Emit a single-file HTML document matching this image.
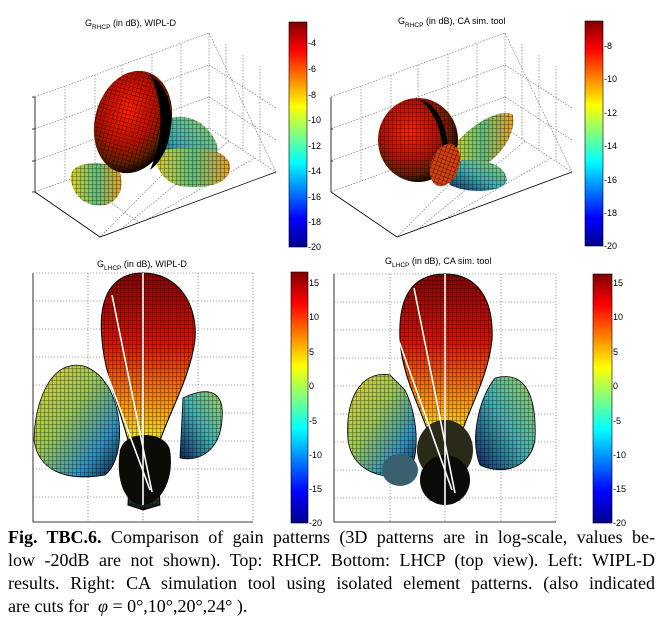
<!DOCTYPE html>
<html><head><meta charset="utf-8"><style>
html,body{margin:0;padding:0;background:#fff;}
.cap{position:absolute;left:8px;top:526px;width:647px;font-family:"Liberation Serif",serif;font-size:18px;line-height:23px;color:#000;}
.cap div{text-align:justify;text-align-last:justify;white-space:nowrap;}
.cap div.l{text-align-last:left;}
</style></head><body>
<div style="position:relative;width:663px;height:640px;overflow:hidden">
<svg width="663" height="640" style="position:absolute;left:0;top:0" font-family="Liberation Sans, sans-serif">
<defs>
<linearGradient id="jet" x1="0" y1="1" x2="0" y2="0">
<stop offset="0" stop-color="#00008f"/><stop offset="0.125" stop-color="#0000ff"/>
<stop offset="0.375" stop-color="#00ffff"/><stop offset="0.625" stop-color="#ffff00"/>
<stop offset="0.875" stop-color="#ff0000"/><stop offset="1" stop-color="#800000"/>
</linearGradient>
<linearGradient id="lobeV" x1="0" y1="0" x2="0" y2="1">
<stop offset="0" stop-color="#8a0000"/><stop offset="0.3" stop-color="#e01000"/>
<stop offset="0.55" stop-color="#ff9000"/><stop offset="0.7" stop-color="#e8e020"/>
<stop offset="0.82" stop-color="#70c070"/><stop offset="1" stop-color="#111"/>
</linearGradient>
<linearGradient id="sideL" x1="0" y1="0" x2="1" y2="1">
<stop offset="0" stop-color="#e0d030"/><stop offset="0.4" stop-color="#a0c850"/>
<stop offset="0.75" stop-color="#3090c0"/><stop offset="1" stop-color="#101830"/>
</linearGradient>
<linearGradient id="sideR" x1="1" y1="0" x2="0" y2="1">
<stop offset="0" stop-color="#a0d060"/><stop offset="0.5" stop-color="#40b0b0"/>
<stop offset="1" stop-color="#102060"/>
</linearGradient>
<radialGradient id="ball" cx="0.4" cy="0.4" r="0.65">
<stop offset="0" stop-color="#ff2000"/><stop offset="0.5" stop-color="#c01000"/>
<stop offset="0.8" stop-color="#602000"/><stop offset="1" stop-color="#000"/>
</radialGradient>
<linearGradient id="greenY" x1="0" y1="0" x2="1" y2="0">
<stop offset="0" stop-color="#e0d020"/><stop offset="0.5" stop-color="#60c080"/><stop offset="1" stop-color="#e8a020"/>
</linearGradient>
<pattern id="mesh" width="4" height="4" patternUnits="userSpaceOnUse">
<path d="M0 0H4M0 0V4" stroke="#000" stroke-width="0.8" opacity="0.75"/>
</pattern>
</defs>

<!-- ============ TOP LEFT ============ -->
<text x="85" y="26" font-size="9">G<tspan font-size="6.5" dy="3">RHCP</tspan><tspan dy="-3"> (in dB), WIPL-D</tspan></text>
<g stroke="#666" stroke-width="0.6" stroke-dasharray="1.5,1.5" fill="none">
<path d="M35 97 L209 33 L276 172 M35 192 L209 128 M209 33 L209 128 L276 172 M65 86 L65 181 M95 75 L95 170 M122 65 L122 160 M152 54 L152 149 M181 44 L181 139 M35 129 L209 65 M35 161 L209 97 M209 65 L276 108 M209 97 L276 140 M226 44 L226 140 M243 55 L243 151 M260 66 L260 162 M209 128 L100 237 M229 141 L120 230 M255 158 L146 220 M35 192 L100 237 M75 178 L140 223"/>
</g>
<g stroke="#000" stroke-width="0.8" fill="none"><path d="M35 97 V192 L100 237 L276 172 M35 97 h-3 M35 129 h-3 M35 161 h-3 M35 192 h-3"/></g>
<path d="M72 185 C65 165 85 160 115 165 C125 175 125 200 105 205 C88 207 77 200 72 185Z" fill="url(#greenY)"/>
<path d="M72 185 C65 165 85 160 115 165 C125 175 125 200 105 205 C88 207 77 200 72 185Z" fill="url(#mesh)"/>
<path d="M150 130 C170 110 200 112 215 140 C222 155 215 170 195 175 C170 178 150 170 150 130Z" fill="url(#sideR)"/>
<path d="M150 130 C170 110 200 112 215 140 C222 155 215 170 195 175 C170 178 150 170 150 130Z" fill="url(#mesh)"/>
<path d="M155 152 C185 145 225 145 230 165 C232 182 210 190 180 186 C165 182 155 170 155 152Z" fill="url(#greenY)"/>
<path d="M155 152 C185 145 225 145 230 165 C232 182 210 190 180 186 C165 182 155 170 155 152Z" fill="url(#mesh)"/>
<ellipse cx="133" cy="122" rx="38" ry="52" transform="rotate(15 133 122)" fill="url(#ball)"/>
<ellipse cx="133" cy="122" rx="38" ry="52" transform="rotate(15 133 122)" fill="url(#mesh)"/>
<path d="M150 75 C178 90 178 150 150 170 C163 140 165 105 150 75Z" fill="#000"/>
<rect x="289" y="22" width="18" height="225" fill="url(#jet)" stroke="#000" stroke-width="0.6"/>
<g font-size="9" fill="#000">
<text x="308" y="46">-4</text><text x="308" y="72">-6</text><text x="308" y="98">-8</text><text x="308" y="123">-10</text><text x="308" y="149">-12</text><text x="308" y="174">-14</text><text x="308" y="200">-16</text><text x="308" y="225">-18</text><text x="308" y="250">-20</text></g>

<!-- ============ TOP RIGHT ============ -->
<text x="398" y="24" font-size="9">G<tspan font-size="6.5" dy="3">RHCP</tspan><tspan dy="-3"> (in dB), CA sim. tool</tspan></text>
<g stroke="#666" stroke-width="0.6" stroke-dasharray="1.5,1.5" fill="none">
<path d="M331 97 L505 33 L572 172 M331 192 L505 128 M505 33 L505 128 L572 172 M361 86 L361 181 M391 75 L391 170 M418 65 L418 160 M448 54 L448 149 M477 44 L477 139 M331 129 L505 65 M331 161 L505 97 M505 65 L572 108 M505 97 L572 140 M522 44 L522 140 M539 55 L539 151 M556 66 L556 162 M505 128 L397 237 M525 141 L417 230 M551 158 L443 220"/>
</g>
<g stroke="#000" stroke-width="0.8" fill="none"><path d="M331 97 V192 M331 192 L397 237 L572 172 M331 129 h2 M331 161 h2"/></g>
<path d="M450 150 C475 118 505 108 513 115 C516 135 500 160 472 172 Z" fill="url(#greenY)"/>
<path d="M450 150 C475 118 505 108 513 115 C516 135 500 160 472 172 Z" fill="url(#mesh)"/>
<path d="M445 165 C470 155 505 160 507 180 C505 192 470 195 450 185Z" fill="url(#sideR)"/>
<path d="M445 165 C470 155 505 160 507 180 C505 192 470 195 450 185Z" fill="url(#mesh)"/>
<ellipse cx="418" cy="140" rx="40" ry="42" fill="url(#ball)"/>
<ellipse cx="418" cy="140" rx="40" ry="42" fill="url(#mesh)"/>
<path d="M420 100 C450 105 455 170 440 180 C448 150 440 115 420 100Z" fill="#000"/>
<ellipse cx="445" cy="165" rx="14" ry="22" transform="rotate(20 445 165)" fill="#d04010"/>
<ellipse cx="445" cy="165" rx="14" ry="22" transform="rotate(20 445 165)" fill="url(#mesh)"/>
<rect x="585" y="21" width="18" height="225" fill="url(#jet)" stroke="#000" stroke-width="0.6"/>
<g font-size="9" fill="#000">
<text x="604" y="49">-8</text><text x="604" y="82">-10</text><text x="604" y="116">-12</text><text x="604" y="149">-14</text><text x="604" y="183">-16</text><text x="604" y="216">-18</text><text x="604" y="249">-20</text></g>

<!-- ============ BOTTOM LEFT ============ -->
<text x="97" y="267" font-size="9">G<tspan font-size="6.5" dy="3">LHCP</tspan><tspan dy="-3"> (in dB), WIPL-D</tspan></text>
<g stroke="#555" stroke-width="0.6" stroke-dasharray="1.2,1.8" fill="none">
<path d="M33 273 H253 M88 273 V522 M143 273 V522 M198 273 V522 M253 273 V522 M33 301 H253 M33 329 H253 M33 357 H253 M33 385 H253 M33 413 H253 M33 441 H253 M33 469 H253 M33 497 H253"/>
</g>
<path d="M33 273 V522 H253" stroke="#000" stroke-width="0.8" fill="none"/>
<path d="M70 366 C50 370 35 400 34 440 C38 470 65 482 105 475 C122 462 125 420 110 390 C100 372 85 362 70 366Z" fill="url(#sideL)" stroke="#000" stroke-width="0.8"/>
<path d="M70 366 C50 370 35 400 34 440 C38 470 65 482 105 475 C122 462 125 420 110 390 C100 372 85 362 70 366Z" fill="url(#mesh)"/>
<path d="M183 398 C210 385 225 392 222 420 C220 450 200 462 180 458Z" fill="url(#sideR)" stroke="#000" stroke-width="0.8"/>
<path d="M183 398 C210 385 225 392 222 420 C220 450 200 462 180 458Z" fill="url(#mesh)"/>
<path d="M143 273 C110 273 98 300 102 340 C105 380 125 420 130 450 L128 505 L143 510 L160 505 L157 450 C165 420 190 380 195 340 C198 300 175 273 143 273Z" fill="url(#lobeV)" stroke="#000"/>
<path d="M143 273 C110 273 98 300 102 340 C105 380 125 420 130 450 L128 505 L143 510 L160 505 L157 450 C165 420 190 380 195 340 C198 300 175 273 143 273Z" fill="url(#mesh)"/>
<path d="M120 450 C125 430 165 430 170 450 C175 480 160 505 143 505 C125 505 115 480 120 450Z" fill="#0b0b08"/>
<g stroke="#fff" stroke-width="1.6"><path d="M143 273 V505 M112 295 L152 492 M100 355 L150 490"/></g>
<rect x="291" y="272" width="17" height="251" fill="url(#jet)" stroke="#000" stroke-width="0.6"/>
<g font-size="9" fill="#000">
<text x="309" y="286">15</text><text x="309" y="320">10</text><text x="309" y="355">5</text><text x="309" y="389">0</text><text x="309" y="424">-5</text><text x="309" y="458">-10</text><text x="309" y="492">-15</text><text x="309" y="526">-20</text></g>

<!-- ============ BOTTOM RIGHT ============ -->
<text x="385" y="264" font-size="9">G<tspan font-size="6.5" dy="3">LHCP</tspan><tspan dy="-3"> (in dB), CA sim. tool</tspan></text>
<g stroke="#555" stroke-width="0.6" stroke-dasharray="1.2,1.8" fill="none">
<path d="M334 274 H556 M390 274 V522 M445 274 V522 M501 274 V522 M556 274 V522 M334 302 H556 M334 330 H556 M334 358 H556 M334 386 H556 M334 414 H556 M334 442 H556 M334 470 H556 M334 498 H556"/>
</g>
<path d="M334 274 V522 H556" stroke="#000" stroke-width="0.8" fill="none"/>
<path d="M390 375 C360 370 345 400 348 440 C352 470 380 480 405 475 C420 465 420 420 405 390Z" fill="url(#sideL)" stroke="#000" stroke-width="0.8"/>
<path d="M390 375 C360 370 345 400 348 440 C352 470 380 480 405 475 C420 465 420 420 405 390Z" fill="url(#mesh)"/>
<path d="M495 378 C525 370 537 395 535 440 C530 470 500 475 480 465 C470 440 478 400 495 378Z" fill="url(#sideR)" stroke="#000" stroke-width="0.8"/>
<path d="M495 378 C525 370 537 395 535 440 C530 470 500 475 480 465 C470 440 478 400 495 378Z" fill="url(#mesh)"/>
<path d="M445 274 C410 274 398 300 400 340 C402 380 425 415 430 440 L430 500 L445 503 L460 500 L460 440 C465 415 488 380 492 340 C494 300 478 274 445 274Z" fill="url(#lobeV)" stroke="#000"/>
<path d="M445 274 C410 274 398 300 400 340 C402 380 425 415 430 440 L430 500 L445 503 L460 500 L460 440 C465 415 488 380 492 340 C494 300 478 274 445 274Z" fill="url(#mesh)"/>
<ellipse cx="445" cy="450" rx="28" ry="30" fill="#2a2a18"/>
<ellipse cx="400" cy="470" rx="18" ry="16" fill="#3a6070"/>
<ellipse cx="445" cy="480" rx="25" ry="25" fill="#0a0a08"/>
<g stroke="#fff" stroke-width="1.6"><path d="M445 274 V505 M414 288 L455 493 M395 330 L452 490"/></g>
<rect x="593" y="274" width="19" height="249" fill="url(#jet)" stroke="#000" stroke-width="0.6"/>
<g font-size="9" fill="#000">
<text x="613" y="286">15</text><text x="613" y="320">10</text><text x="613" y="355">5</text><text x="613" y="389">0</text><text x="613" y="424">-5</text><text x="613" y="458">-10</text><text x="613" y="492">-15</text><text x="613" y="526">-20</text></g>
</svg>
<div class="cap">
<div><b>Fig. TBC.6.</b> Comparison of gain patterns (3D patterns are in log-scale, values be-</div>
<div>low -20dB are not shown). Top: RHCP. Bottom: LHCP (top view). Left: WIPL-D</div>
<div>results. Right: CA simulation tool using isolated element patterns. (also indicated</div>
<div class="l">are cuts for &nbsp;<i>φ</i> = 0°,10°,20°,24° ).</div>
</div>
</div>
</body></html>
